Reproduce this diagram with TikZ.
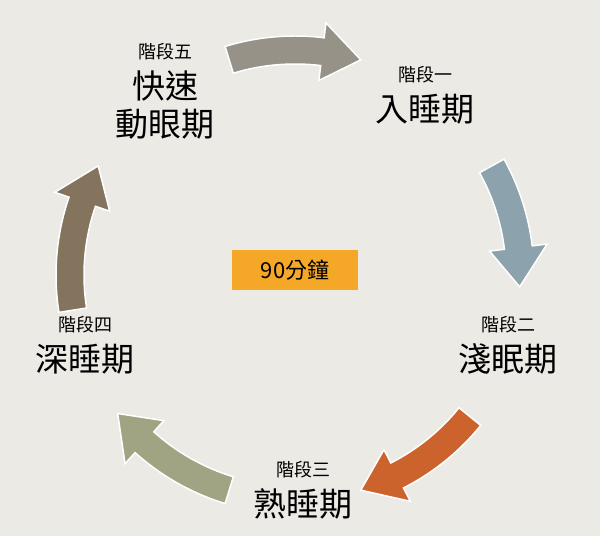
\documentclass[tikz,border=0pt]{standalone}
\usepackage{fontspec}
\usetikzlibrary{positioning}
\newfontfamily\cjk{Noto Sans CJK TC}
\definecolor{bgc}{RGB}{236,234,229}
\definecolor{arrA}{RGB}{150,146,136}
\definecolor{arrB}{RGB}{140,162,172}
\definecolor{arrC}{RGB}{204,98,44}
\definecolor{arrD}{RGB}{160,164,130}
\definecolor{arrE}{RGB}{132,116,94}
\definecolor{boxc}{RGB}{245,168,40}
\tikzset{
  stage/.style={font=\cjk\fontsize{18}{19}\selectfont, inner sep=0pt},
  phase/.style={font=\cjk\fontsize{33}{38}\selectfont, inner sep=0pt, align=center},
  cyclearrow/.style={draw=white, line width=1.5pt, line join=miter}
}
% #1 start angle, #2 tip angle, #3 colour
\newcommand{\cyclearr}[3]{%
  \fill[cyclearrow, fill=#3] (#1:239) arc[start angle=#1, end angle={#2+10}, radius=239]
    -- ({#2+10}:254) -- (#2:225) -- ({#2+10}:196) -- ({#2+10}:211)
    arc[start angle={#2+10}, end angle=#1, radius=211] -- cycle;}
\begin{document}
\begin{tikzpicture}[x=1pt,y=1pt]
  \fill[bgc] (0,0) rectangle (600,536);
  \useasboundingbox (0,0) rectangle (600,536);

  \begin{scope}[shift={(295,261)}]
    \cyclearr{107}{73}{arrA}
    \cyclearr{29}{-3}{arrB}
    \cyclearr{-39}{-73}{arrC}
    \cyclearr{-107}{-142}{arrD}
    \cyclearr{189}{151}{arrE}
  \end{scope}

  %% Center box
  \node (total) [fill=boxc, minimum width=126pt, minimum height=40pt,
    font=\cjk\fontsize{22}{24}\selectfont] at (295,266) {90分鐘};

  %% Stages
  \node (s5) [stage] at (165,484) {階段五};
  \node (p5) [phase, below=10pt of s5] {快速\\動眼期};
  \node (s1) [stage] at (425,461) {階段一};
  \node (p1) [phase, below=10pt of s1] {入睡期};
  \node (s2) [stage] at (508,211) {階段二};
  \node (p2) [phase, below=10pt of s2] {淺眠期};
  \node (s3) [stage] at (303,66) {階段三};
  \node (p3) [phase, below=10pt of s3] {熟睡期};
  \node (s4) [stage] at (85,211) {階段四};
  \node (p4) [phase, below=10pt of s4] {深睡期};
\end{tikzpicture}
\end{document}
